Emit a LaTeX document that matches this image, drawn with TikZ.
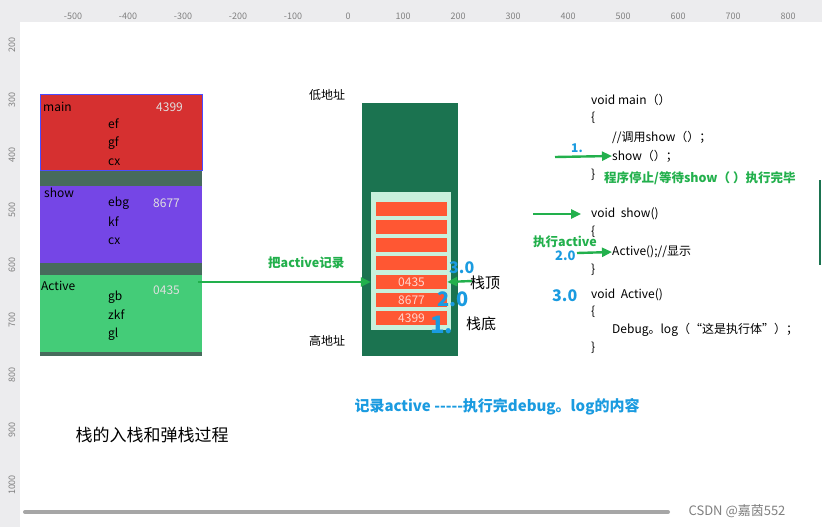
\documentclass[tikz,border=0pt]{standalone}
\usepackage{fontspec}
\setmainfont{Noto Sans CJK SC}
\usetikzlibrary{arrows.meta}
\definecolor{rulergray}{RGB}{236,236,238}
\definecolor{framered}{RGB}{214,48,48}
\definecolor{framepurple}{RGB}{117,70,230}
\definecolor{framegreen}{RGB}{68,204,120}
\definecolor{gapgray}{RGB}{71,107,92}
\definecolor{stackgreen}{RGB}{27,115,80}
\definecolor{stackmint}{RGB}{200,240,220}
\definecolor{slotred}{RGB}{255,87,51}
\definecolor{arrowgreen}{RGB}{34,176,76}
\definecolor{stepblue}{RGB}{26,155,224}
\begin{document}
\begin{tikzpicture}[x=1pt, y=-1pt, font=\fontsize{12}{13}\selectfont,
  txt/.style={anchor=west, inner sep=0pt},
  faint/.style={txt, text=white!75!gray},
  greenarrow/.style={-{Triangle[length=10pt,width=9pt]}, arrowgreen, line width=2.4pt},
  greenlabel/.style={anchor=west, inner sep=0pt, text=arrowgreen, font=\fontsize{12.5}{13}\selectfont\bfseries},
  steplabel/.style={anchor=west, inner sep=0pt, text=stepblue, font=\fontsize{16}{16}\selectfont\bfseries},
  slot/.style={fill=slotred, draw=none, minimum width=71pt, minimum height=14pt, inner sep=0pt, text=white!75!slotred, font=\fontsize{12}{12}\selectfont}]
\useasboundingbox (0,0) rectangle (822,527);
\fill[white] (0,0) rectangle (822,527);
% Rulers
\fill[rulergray] (0,0) rectangle (822,22);
\fill[rulergray] (0,0) rectangle (20,527);
\foreach \v [count=\i from 0] in {-500,-400,-300,-200,-100,0,100,200,300,400,500,600,700,800}
  \node[font=\fontsize{9}{9}\selectfont, text=gray] (rx\i) at (73+55*\i,16) {\v};
\foreach \v [count=\i from 0] in {200,300,400,500,600,700,800,900,1000}
  \node[font=\fontsize{9}{9}\selectfont, text=gray, rotate=90] (ry\i) at (12,45+55*\i) {\v};
\draw[line width=4pt, gray!70, line cap=round] (25,512) -- (668,512);
\draw[line width=2pt, stackgreen] (820,180) -- (820,265);

% Call frames
\fill[gapgray] (40,170) rectangle (202,356);
\fill[framered] (40,94) rectangle (202,170);
\draw[blue!70, line width=1pt] (40,94) rectangle (202,170);
\fill[framepurple] (40,186) rectangle (202,263);
\fill[framegreen] (40,275) rectangle (202,352);
\node[txt] (mainname) at (43,107) {main};
\node[faint] (mainid) at (156,107) {4399};
\node[txt] (ef) at (108,124) {ef};
\node[txt] (gf) at (108,143) {gf};
\node[txt] (cx1) at (108,162) {cx};
\node[txt] (showname) at (44,193) {show};
\node[faint] (showid) at (153,203) {8677};
\node[txt] (ebg) at (108,203) {ebg};
\node[txt] (kf) at (108,222) {kf};
\node[txt] (cx2) at (108,241) {cx};
\node[txt] (actname) at (41,286) {Active};
\node[faint] (actid) at (153,290) {0435};
\node[txt] (gb) at (108,297) {gb};
\node[txt] (zkf) at (108,315) {zkf};
\node[txt] (gl) at (108,334) {gl};
\coordinate (actout) at (198,282);

% Stack
\fill[stackgreen] (362,103) rectangle (458,356);
\node[fill=stackmint, minimum width=80pt, minimum height=138pt, inner sep=0pt] (stack) at (411,261) {};
\foreach \y [count=\i] in {209,227,245,263} \node[slot] (slot\i) at (411.5,\y) {};
\node[slot] (s0435) at (411.5,282) {0435};
\node[slot] (s8677) at (411.5,300) {8677};
\node[slot] (s4399) at (411.5,318) {4399};
\node (low) at (327,95) {低地址};
\node (high) at (327,341) {高地址};
\draw[greenarrow] (actout) -- (stack.west |- s0435);
\node[greenlabel] (record) at (268,263) {把active记录};
\node[steplabel] (top3) at (449,268) {3.0};
\node[steplabel, font=\fontsize{20}{20}\selectfont\bfseries] (top2) at (437,299) {2.0};
\node[steplabel, font=\fontsize{24}{24}\selectfont\bfseries] (top1) at (430,325) {1.};
\coordinate (topin) at (472,281);
\draw[greenarrow] (topin) -- (s0435.east);
\node[anchor=west, inner sep=0pt, font=\fontsize{15}{15}\selectfont] (stacktop) at (470,283) {栈顶};
\node[anchor=west, inner sep=0pt, font=\fontsize{15}{15}\selectfont] (stackbot) at (466,324) {栈底};

% Code
\node[txt] (c1) at (591,100) {void main（）};
\node[txt] (c2) at (591,118) {\{};
\node[txt] (c3) at (612,137) {//调用show（）；};
\node[txt] (c4) at (612,156) {show（）；};
\node[txt] (c5) at (591,175) {\}};
\node[greenlabel] (wait) at (604,178) {程序停止/等待show（ ）执行完毕};
\node[txt] (c6) at (591,214) {void\ \ show()};
\node[txt] (c7) at (591,232) {\{};
\node[txt] (c8) at (612,252) {Active();//显示};
\node[txt] (c9) at (591,270) {\}};
\node[txt] (c10) at (591,295) {void\ \ Active()};
\node[txt] (c11) at (591,312) {\{};
\node[txt] (c12) at (612,330) {Debug。log（“这是执行体”）；};
\node[txt] (c13) at (591,348) {\}};
\coordinate (in1) at (555,157);
\coordinate (in2) at (533,214);
\coordinate (in3) at (577,253);
\draw[greenarrow] (in1) -- (c4.west);
\draw[greenarrow] (in2) -- ([xshift=-10pt]c6.west);
\draw[greenarrow] (in3) -- (c8.west);
\node[steplabel, font=\fontsize{12}{12}\selectfont\bfseries] (n1) at (571,148) {1.};
\node[greenlabel] (doact) at (533,242) {执行active};
\node[steplabel, font=\fontsize{13}{13}\selectfont\bfseries] (n2) at (555,256) {2.0};
\node[steplabel] (n3) at (552,296) {3.0};

% Captions
\node[text=stepblue, font=\fontsize{15}{15}\selectfont\bfseries] (summary) at (497,407) {记录active {-}{-}{-}{-}{-}执行完debug。log的内容};
\node[font=\fontsize{17}{17}\selectfont] (title) at (152,435) {栈的入栈和弹栈过程};
\node[text=gray, font=\fontsize{13}{13}\selectfont] (mark) at (737,511) {CSDN @嘉茵552};
\end{tikzpicture}
\end{document}
